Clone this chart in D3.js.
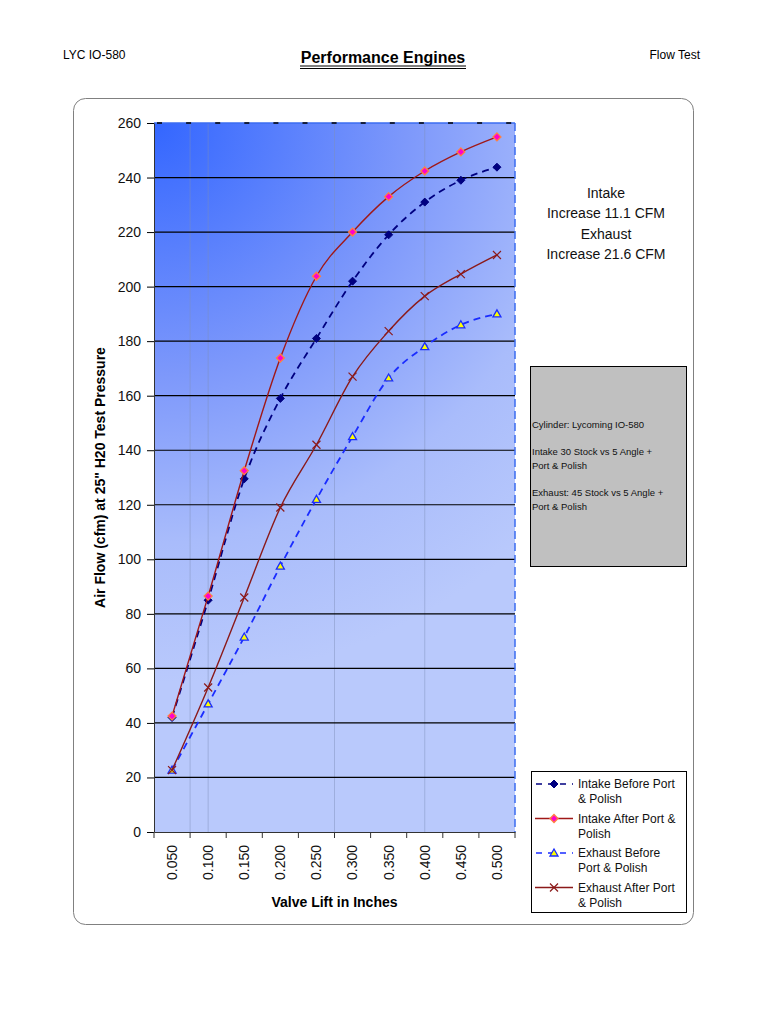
<!DOCTYPE html>
<html>
<head>
<meta charset="utf-8">
<script src="https://cdn.jsdelivr.net/npm/d3@7"></script>
<style>
  body { margin: 0; background: #fff; }
  svg { display: block; font-family: "Liberation Sans", Arial, sans-serif; }
</style>
</head>
<body>
<svg id="chart"></svg>
<script>
// data
const lifts = ["0.050", "0.100", "0.150", "0.200", "0.250", "0.300", "0.350", "0.400", "0.450", "0.500"];
const intakeBefore = [42, 85, 129.5, 159, 181, 202, 219, 231, 239, 243.8];
const intakeAfter = [42.5, 86.5, 132.5, 173.8, 203.8, 220, 233, 242.4, 249.4, 254.9];
const exhaustBefore = [22.7, 47, 71.5, 97.5, 122, 145, 166.5, 178, 186, 190];
const exhaustAfter = [22.7, 53, 86, 119, 142, 167, 183.7, 196.5, 204.6, 211.6];
const yTicks = [0, 20, 40, 60, 80, 100, 120, 140, 160, 180, 200, 220, 240, 260];

const width = 768;
const height = 1024;
const plot = { left: 154, right: 515, top: 123, bottom: 832 };

const svg = d3.select("#chart").attr("width", width).attr("height", height);

const defs = svg.append("defs");
const grad = defs.append("radialGradient")
    .attr("id", "bg")
    .attr("gradientUnits", "userSpaceOnUse")
    .attr("cx", plot.left).attr("cy", plot.top)
    .attr("r", 560);
grad.append("stop").attr("offset", "0%").attr("stop-color", "#3366ff");
grad.append("stop").attr("offset", "45%").attr("stop-color", "#7d98fb");
grad.append("stop").attr("offset", "75%").attr("stop-color", "#a9bcfb");
grad.append("stop").attr("offset", "100%").attr("stop-color", "#b9c9fc");

// page header
svg.append("text").attr("x", 63).attr("y", 59).attr("font-size", 12).text("LYC IO-580");
svg.append("text").attr("x", 700).attr("y", 59).attr("font-size", 12).attr("text-anchor", "end").text("Flow Test");
svg.append("text").attr("x", 383).attr("y", 63).attr("font-size", 16).attr("font-weight", "bold")
    .attr("text-anchor", "middle").text("Performance Engines");
svg.append("line").attr("x1", 300).attr("x2", 466).attr("y1", 66).attr("y2", 66).attr("stroke", "#000").attr("stroke-width", 1);
svg.append("line").attr("x1", 300).attr("x2", 466).attr("y1", 68.5).attr("y2", 68.5).attr("stroke", "#000").attr("stroke-width", 1);

// chart frame
svg.append("rect").attr("x", 73.5).attr("y", 98.5).attr("width", 620).attr("height", 826)
    .attr("rx", 12).attr("fill", "#fff").attr("stroke", "#808080").attr("stroke-width", 1);

// scales
const x = d3.scaleBand().domain(lifts).range([plot.left, plot.right]);
const y = d3.scaleLinear().domain([0, 260]).range([plot.bottom, plot.top]);
const cx = d => x(d) + x.bandwidth() / 2;

// plot area
svg.append("rect").attr("x", plot.left).attr("y", plot.top)
    .attr("width", plot.right - plot.left).attr("height", plot.bottom - plot.top)
    .attr("fill", "url(#bg)");

// faint vertical streaks in the fill
const streaks = [x("0.100"), cx("0.100"), x("0.300"), cx("0.400")];
svg.append("g").selectAll("line").data(streaks).join("line")
    .attr("x1", d => d).attr("x2", d => d)
    .attr("y1", plot.top).attr("y2", plot.bottom)
    .attr("stroke", "#7f8fb8").attr("stroke-opacity", 0.45).attr("stroke-width", 1);

// horizontal gridlines
svg.append("g").selectAll("line").data(yTicks.filter(d => d > 0 && d < 260)).join("line")
    .attr("x1", plot.left).attr("x2", plot.right)
    .attr("y1", d => y(d)).attr("y2", d => y(d))
    .attr("stroke", "#000").attr("stroke-width", 1.2);

// plot border
svg.append("line").attr("x1", plot.left).attr("x2", plot.right).attr("y1", plot.top).attr("y2", plot.top)
    .attr("stroke", "#3b6cf0").attr("stroke-width", 1.5);
svg.append("line").attr("x1", plot.left).attr("x2", plot.right).attr("y1", plot.top).attr("y2", plot.top)
    .attr("stroke", "#000").attr("stroke-width", 1.5).attr("stroke-dasharray", "5,24.1")
    .attr("stroke-dashoffset", -3);
svg.append("line").attr("x1", plot.right).attr("x2", plot.right).attr("y1", plot.top).attr("y2", plot.bottom)
    .attr("stroke", "#3b6cf0").attr("stroke-width", 1.5).attr("stroke-dasharray", "8,4");

// axes
const yAxis = svg.append("g")
    .attr("transform", `translate(${plot.left},0)`)
    .call(d3.axisLeft(y).tickValues(yTicks).tickSize(7).tickSizeOuter(0).tickPadding(6));
yAxis.selectAll("text").attr("font-size", 14).attr("fill", "#111").attr("font-family", "Liberation Sans, Arial");
yAxis.select(".domain").attr("stroke", "#333");

const xAxis = svg.append("g")
    .attr("transform", `translate(0,${plot.bottom})`)
    .call(d3.axisBottom(x).tickSize(0).tickSizeOuter(0));
xAxis.select(".domain").attr("stroke", "#333");
xAxis.selectAll("text")
    .attr("font-size", 14).attr("fill", "#111").attr("font-family", "Liberation Sans, Arial")
    .attr("text-anchor", "end")
    .attr("transform", "rotate(-90)")
    .attr("x", -13).attr("y", 0).attr("dy", "0.35em");
// tick marks between categories
xAxis.append("g").selectAll("line").data(lifts.concat(["end"])).join("line")
    .attr("x1", (d, i) => plot.left + i * x.bandwidth())
    .attr("x2", (d, i) => plot.left + i * x.bandwidth())
    .attr("y1", 0).attr("y2", 6).attr("stroke", "#333");

svg.append("text")
    .attr("transform", `translate(105,${(plot.top + plot.bottom) / 2}) rotate(-90)`)
    .attr("text-anchor", "middle").attr("font-size", 14).attr("font-weight", "bold")
    .text("Air Flow (cfm) at 25\" H20 Test Pressure");
svg.append("text").attr("x", (plot.left + plot.right) / 2).attr("y", 907)
    .attr("text-anchor", "middle").attr("font-size", 14).attr("font-weight", "bold")
    .text("Valve Lift in Inches");

// series
const series = [
    { name: ["Intake Before Port", "& Polish"], values: intakeBefore, color: "#000080", dash: "7,5", marker: "diamondNavy" },
    { name: ["Intake After Port &", "Polish"], values: intakeAfter, color: "#a01818", dash: null, marker: "diamondPink" },
    { name: ["Exhaust Before", "Port & Polish"], values: exhaustBefore, color: "#1a2cff", dash: "7,5", marker: "triangle" },
    { name: ["Exhaust After Port", "& Polish"], values: exhaustAfter, color: "#8b1a1a", dash: null, marker: "cross" }
];

const line = d3.line().x((d, i) => cx(lifts[i])).y(d => y(d)).curve(d3.curveMonotoneX);

function drawMarker(g, type, px, py) {
    if (type === "diamondNavy") {
        g.append("path").attr("d", `M${px},${py - 4}L${px + 4},${py}L${px},${py + 4}L${px - 4},${py}Z`)
            .attr("fill", "#000080").attr("stroke", "#000080");
    } else if (type === "diamondPink") {
        g.append("path").attr("d", `M${px},${py - 4}L${px + 4},${py}L${px},${py + 4}L${px - 4},${py}Z`)
            .attr("fill", "#ff00cc").attr("stroke", "#ff8040").attr("stroke-width", 1.3);
    } else if (type === "triangle") {
        g.append("path").attr("d", `M${px},${py - 4}L${px + 4},${py + 3}L${px - 4},${py + 3}Z`)
            .attr("fill", "#ffff00").attr("stroke", "#1a2cff").attr("stroke-width", 1.3);
    } else {
        g.append("path").attr("d", `M${px - 4},${py - 4}L${px + 4},${py + 4}M${px - 4},${py + 4}L${px + 4},${py - 4}`)
            .attr("stroke", "#8b1a1a").attr("stroke-width", 1.2).attr("fill", "none");
    }
}

// draw back to front: exhaust first, intake on top
[2, 3, 0, 1].forEach(k => {
    const s = series[k];
    const g = svg.append("g");
    g.append("path").datum(s.values).attr("d", line)
        .attr("fill", "none").attr("stroke", s.color).attr("stroke-width", s.dash ? 1.8 : 1.4)
        .attr("stroke-dasharray", s.dash);
    s.values.forEach((v, i) => drawMarker(g, s.marker, cx(lifts[i]), y(v)));
});

// annotation
const note = svg.append("text").attr("text-anchor", "middle").attr("font-size", 14).attr("fill", "#111");
["Intake", "Increase 11.1 CFM", "Exhaust", "Increase 21.6 CFM"].forEach((t, i) => {
    note.append("tspan").attr("x", 606).attr("y", 198 + i * 20.3).text(t);
});

// grey info box
svg.append("rect").attr("x", 530.5).attr("y", 366.5).attr("width", 156).attr("height", 200)
    .attr("fill", "#c0c0c0").attr("stroke", "#000").attr("stroke-width", 1);
const info = svg.append("text").attr("font-size", 9.5).attr("fill", "#111");
[["Cylinder: Lycoming IO-580", 428], ["Intake 30 Stock vs 5 Angle +", 455], ["Port & Polish", 469],
 ["Exhaust: 45 Stock vs 5 Angle +", 496], ["Port & Polish", 510]].forEach(([t, yy]) => {
    info.append("tspan").attr("x", 532).attr("y", yy).text(t);
});

// legend
svg.append("rect").attr("x", 531.5).attr("y", 771.5).attr("width", 155).attr("height", 141)
    .attr("fill", "#fff").attr("stroke", "#000").attr("stroke-width", 1);
series.forEach((s, i) => {
    const ly = 784 + i * 34.5;
    const g = svg.append("g");
    g.append("line").attr("x1", 535).attr("x2", 573).attr("y1", ly).attr("y2", ly)
        .attr("stroke", s.color).attr("stroke-width", s.dash ? 1.5 : 1.4)
        .attr("stroke-dasharray", s.dash ? "6,6" : null).attr("stroke-dashoffset", s.dash ? -1 : 0);
    drawMarker(g, s.marker, 554, ly);
    const t = g.append("text").attr("font-size", 12).attr("fill", "#111");
    s.name.forEach((n, j) => t.append("tspan").attr("x", 578).attr("y", ly + 4 + j * 15).text(n));
});
</script>
</body>
</html>
